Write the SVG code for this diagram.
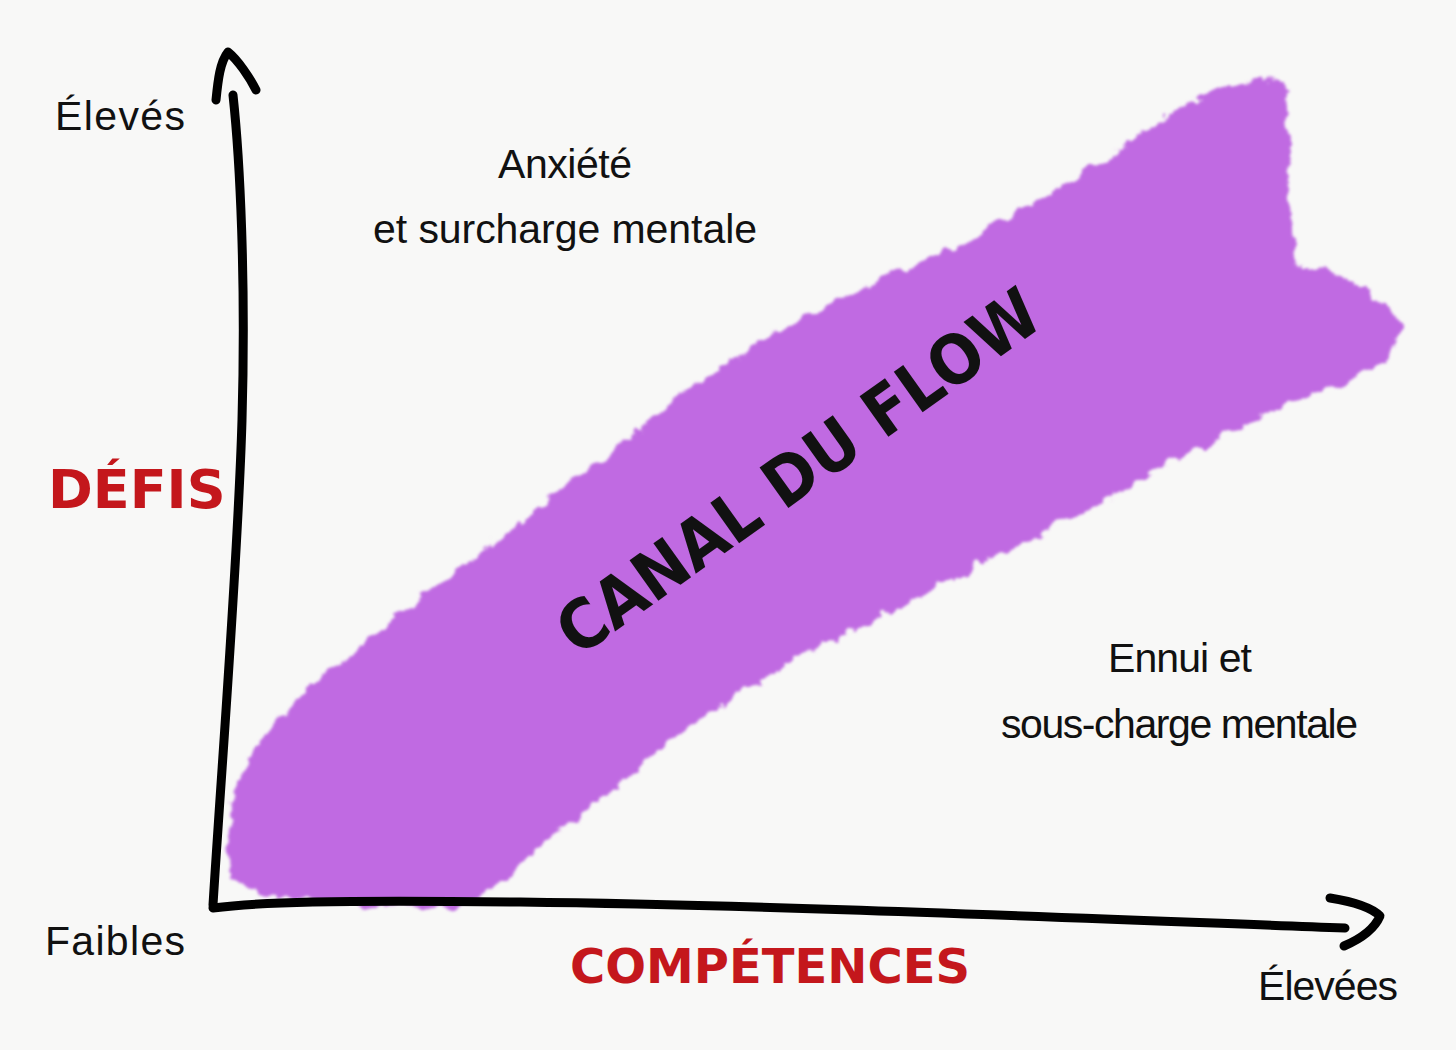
<svg xmlns="http://www.w3.org/2000/svg" width="1456" height="1050" viewBox="0 0 1456 1050">
<defs>
<style>
.lbl{font-family:"Liberation Sans","DejaVu Sans",sans-serif;fill:#111;font-size:41px}
.red{font-family:"DejaVu Sans","Liberation Sans",sans-serif;fill:#c4171c;font-weight:bold}
.axis{fill:none;stroke:#000;stroke-width:9;stroke-linecap:round;stroke-linejoin:round}
</style>
<filter id="rough" x="-5%" y="-5%" width="110%" height="110%">
<feTurbulence type="fractalNoise" baseFrequency="0.06" numOctaves="3" seed="4" result="n"/>
<feDisplacementMap in="SourceGraphic" in2="n" scale="18" xChannelSelector="R" yChannelSelector="G" result="d"/>
<feGaussianBlur in="d" stdDeviation="1.5"/>
</filter>
</defs>
<rect width="1456" height="1050" fill="#f8f8f7"/>
<g id="flow-channel">
<path filter="url(#rough)" fill="#c06ae2" d="M228,830 C235,770 270,720 330,670 C390,620 450,575 510,530 C575,480 630,435 690,390 C760,335 840,298 930,258 C1020,218 1100,160 1170,115 C1210,90 1250,78 1285,82 C1295,140 1280,220 1300,268 C1340,268 1385,295 1402,325 C1400,355 1380,370 1340,385 C1280,405 1220,435 1150,475 C1080,515 1000,555 930,590 C860,625 780,665 700,720 C630,770 560,835 470,905 C400,912 320,900 260,895 C235,890 226,870 228,830 Z"/>
</g>
<g id="axes">
<path class="axis" d="M213,905 C222,760 238,560 242,420 C246,280 240,160 233,95"/>
<path class="axis" d="M216,100 C218,80 220,62 228,52 C238,60 250,78 256,90"/>
<path class="axis" d="M213,908 C260,902 330,900 520,902 C760,905 1000,915 1345,928"/>
<path class="axis" d="M1330,898 C1355,902 1372,908 1380,916 C1374,930 1358,940 1344,946"/>
</g>
<g id="labels">
<text class="lbl" x="55" y="130" textLength="130">Élevés</text>
<text class="lbl" x="498" y="178" textLength="134">Anxiété</text>
<text class="lbl" x="373" y="243" textLength="384">et surcharge mentale</text>
<text class="lbl" x="1108" y="672" textLength="144">Ennui et</text>
<text class="lbl" x="1001" y="738" textLength="357">sous-charge mentale</text>
<text class="lbl" x="45" y="955" textLength="140">Faibles</text>
<text class="lbl" x="1258" y="1000" textLength="140">Élevées</text>
<text class="red" x="48" y="508" font-size="54">DÉFIS</text>
<text class="red" x="570" y="983" font-size="48">COMPÉTENCES</text>
<text x="0" y="0" transform="translate(578,658) rotate(-35.5)" font-family="DejaVu Sans,sans-serif" font-weight="bold" font-size="68" fill="#111" textLength="575" lengthAdjust="spacingAndGlyphs">CANAL DU FLOW</text>
</g>
</svg>
